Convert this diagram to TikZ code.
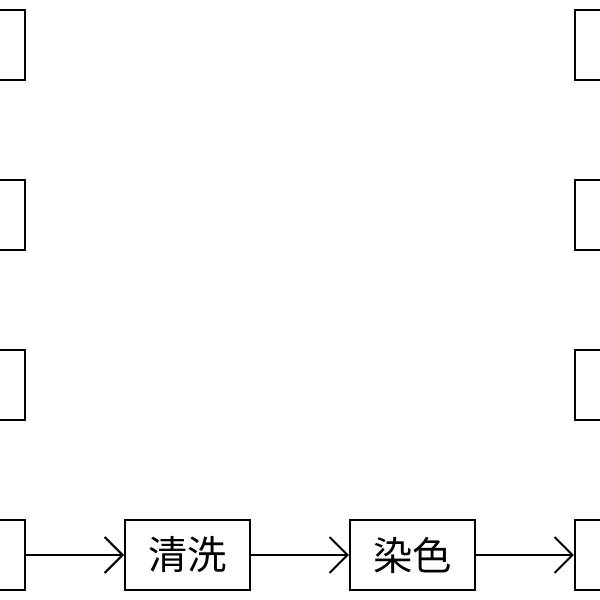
\documentclass[tikz,border=0pt]{standalone}
\usepackage{fontspec}
\newfontfamily\cjk{Noto Sans CJK SC}
\usepackage{tikz}
\usetikzlibrary{arrows.meta}
\usetikzlibrary{positioning}

\begin{document}
\begin{tikzpicture}[->,>={Straight Barb[length=0.45cm,width=0.9cm]},node distance=2.45cm,
  line width=1.4pt,box/.style={rectangle,draw,minimum width=3.125cm,minimum height=1.75cm,
  font=\cjk\fontsize{28}{28}\selectfont}]
  \clip (0,0) rectangle (15,-15);

  \node[box] (clean) at (4.6875,-13.875) {清洗};
  \node[box] (dye) [right=of clean] {染色};
  \node[box] (L4) [left=of clean] {};
  \node[box] (R4) [right=of dye] {};
  \node[box] (L3) [above=of L4] {};
  \node[box] (L2) [above=of L3] {};
  \node[box] (L1) [above=of L2] {};
  \node[box] (R3) [above=of R4] {};
  \node[box] (R2) [above=of R3] {};
  \node[box] (R1) [above=of R2] {};

  \draw (L4) -- (clean);
  \draw (clean) -- (dye);
  \draw (dye) -- (R4);
\end{tikzpicture}
\end{document}
